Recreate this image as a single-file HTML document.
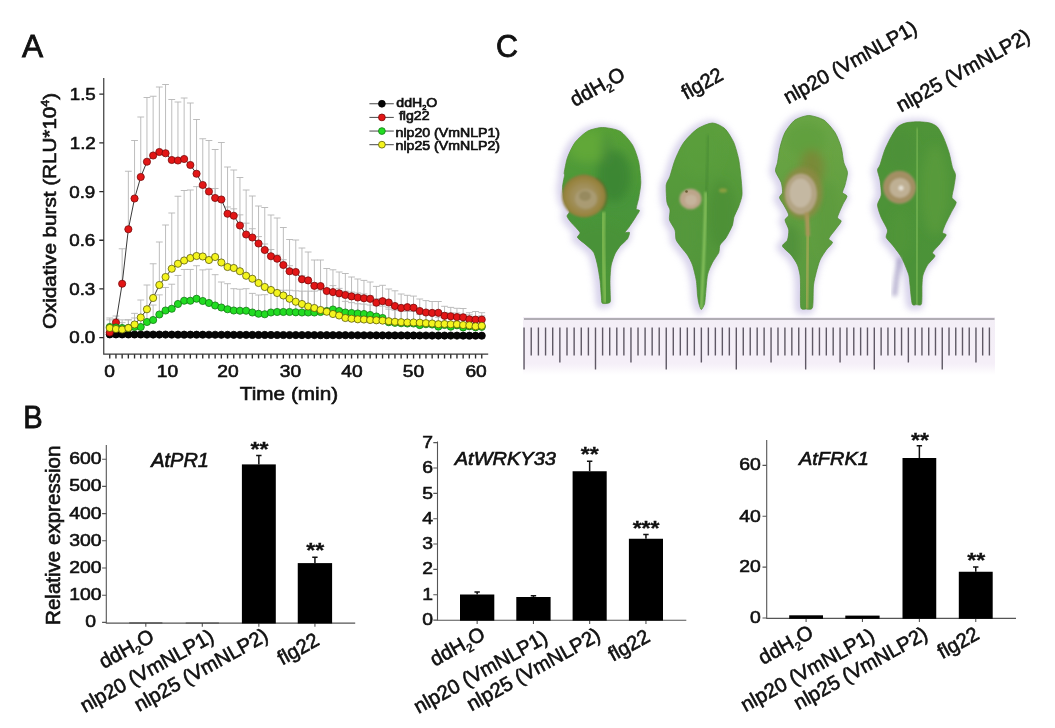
<!DOCTYPE html>
<html lang="en"><head><meta charset="utf-8"><title>Figure</title>
<style>html,body{margin:0;padding:0;background:#fff;}body{width:1055px;height:728px;overflow:hidden;}svg{display:block;filter:blur(0.45px);}text{font-family:"Liberation Sans", sans-serif;}</style>
</head><body>
<svg width="1055" height="728" viewBox="0 0 1055 728">
<defs>
<filter id="b03" x="-5%" y="-5%" width="110%" height="110%"><feGaussianBlur stdDeviation="0.35"/></filter>
<filter id="b05" x="-5%" y="-5%" width="110%" height="110%"><feGaussianBlur stdDeviation="0.6"/></filter>
<filter id="b07" x="-10%" y="-10%" width="120%" height="120%"><feGaussianBlur stdDeviation="0.8"/></filter>
<filter id="b1" x="-20%" y="-20%" width="140%" height="140%"><feGaussianBlur stdDeviation="1.2"/></filter>
<filter id="b2" x="-50%" y="-20%" width="200%" height="140%"><feGaussianBlur stdDeviation="2"/></filter>
<filter id="b4" x="-50%" y="-50%" width="200%" height="200%"><feGaussianBlur stdDeviation="5"/></filter>
<radialGradient id="les1" cx="0.5" cy="0.52" r="0.5"><stop offset="0" stop-color="#a89a6e"/><stop offset="0.55" stop-color="#a08e58"/><stop offset="0.85" stop-color="#98843f"/><stop offset="1" stop-color="#8c7c3a"/></radialGradient>
<filter id="b3" x="-20%" y="-20%" width="140%" height="140%"><feGaussianBlur stdDeviation="3.4"/></filter>
<linearGradient id="photobg" x1="0" y1="0" x2="0" y2="1"><stop offset="0" stop-color="#fff"/><stop offset="0.1" stop-color="#fcfafe"/><stop offset="0.9" stop-color="#fcfafe"/><stop offset="1" stop-color="#fff"/></linearGradient>
<linearGradient id="rulerbg" x1="0" y1="0" x2="0" y2="1"><stop offset="0" stop-color="#f3eef6"/><stop offset="0.8" stop-color="#f5eff8"/><stop offset="1" stop-color="#fff"/></linearGradient>
<linearGradient id="lg1" x1="0" y1="0" x2="0" y2="1"><stop offset="0" stop-color="#58a036"/><stop offset="0.45" stop-color="#48953a"/><stop offset="1" stop-color="#4c9436"/></linearGradient>
<linearGradient id="lg2" x1="0" y1="0" x2="0" y2="1"><stop offset="0" stop-color="#5c9f3c"/><stop offset="0.45" stop-color="#54983a"/><stop offset="1" stop-color="#50963a"/></linearGradient>
<linearGradient id="lg3" x1="0" y1="0" x2="0" y2="1"><stop offset="0" stop-color="#6aa645"/><stop offset="0.45" stop-color="#639f41"/><stop offset="1" stop-color="#589a3e"/></linearGradient>
<linearGradient id="lg4" x1="0" y1="0" x2="0" y2="1"><stop offset="0" stop-color="#4f9438"/><stop offset="0.45" stop-color="#4d9338"/><stop offset="1" stop-color="#4b9238"/></linearGradient>
</defs>
<rect width="1055" height="728" fill="#fff"/>
<g id="panelA">
<text id="t0" transform="translate(21.88,56.92) scale(1.0385,1.0167)" font-size="30.5" text-anchor="start" font-weight="normal" font-style="normal" fill="#111" stroke="#111" stroke-width="0.8" >A</text>
<path d="M115.95 322.50V316.00M112.55 316.00H119.35M122.15 283.75V248.75M118.75 248.75H125.55M128.35 229.25V171.25M124.95 171.25H131.75M134.55 198.50V140.50M131.15 140.50H137.95M140.75 177.00V117.00M137.35 117.00H144.15M146.95 161.75V97.50M143.55 97.50H150.35M153.15 155.50V96.25M149.75 96.25H156.55M159.35 152.00V87.00M155.95 87.00H162.75M165.55 153.25V84.50M162.15 84.50H168.95M171.75 160.00V99.50M168.35 99.50H175.15M177.95 160.50V102.00M174.55 102.00H181.35M184.15 159.00V98.00M180.75 98.00H187.55M190.35 165.00V103.00M186.95 103.00H193.75M196.55 173.75V119.50M193.15 119.50H199.95M202.75 185.00V138.75M199.35 138.75H206.15M208.95 191.50V140.50M205.55 140.50H212.35M215.15 198.00V149.50M211.75 149.50H218.55M221.35 199.50V142.50M217.95 142.50H224.75M227.55 213.75V167.00M224.15 167.00H230.95M233.75 215.75V170.00M230.35 170.00H237.15M239.95 225.50V177.50M236.55 177.50H243.35M246.15 234.50V190.00M242.75 190.00H249.55M252.35 237.50V196.00M248.95 196.00H255.75M258.55 243.50V206.00M255.15 206.00H261.95M264.75 250.00V207.50M261.35 207.50H268.15M270.95 256.25V215.00M267.55 215.00H274.35M277.15 258.75V218.00M273.75 218.00H280.55M283.35 265.00V227.50M279.95 227.50H286.75M289.55 271.25V239.50M286.15 239.50H292.95M295.75 272.00V240.00M292.35 240.00H299.15M301.95 279.30V248.00M298.55 248.00H305.35M308.15 280.40V252.00M304.75 252.00H311.55M314.35 285.80V260.00M310.95 260.00H317.75M320.55 286.10V260.00M317.15 260.00H323.95M326.75 291.00V268.50M323.35 268.50H330.15M332.95 292.10V269.80M329.55 269.80H336.35M339.15 293.30V272.00M335.75 272.00H342.55M345.35 295.00V273.50M341.95 273.50H348.75M351.55 296.40V277.00M348.15 277.00H354.95M357.75 297.50V279.00M354.35 279.00H361.15M363.95 298.30V280.40M360.55 280.40H367.35M370.15 298.80V282.00M366.75 282.00H373.55M376.35 302.70V286.40M372.95 286.40H379.75M382.55 301.20V285.30M379.15 285.30H385.95M388.75 302.50V289.00M385.35 289.00H392.15M394.95 306.00V290.80M391.55 290.80H398.35M401.15 307.90V294.00M397.75 294.00H404.55M407.35 307.20V295.30M403.95 295.30H410.75M413.55 307.70V296.10M410.15 296.10H416.95M419.75 311.00V299.00M416.35 299.00H423.15M425.95 312.50V300.60M422.55 300.60H429.35M432.15 312.90V301.50M428.75 301.50H435.55M438.35 312.80V301.50M434.95 301.50H441.75M444.55 315.80V306.30M441.15 306.30H447.95M450.75 316.30V307.40M447.35 307.40H454.15M456.95 317.10V308.30M453.55 308.30H460.35M463.15 317.30V308.50M459.75 308.50H466.55M469.35 319.30V312.70M465.95 312.70H472.75M475.55 319.60V311.50M472.15 311.50H478.95M481.75 319.60V312.70M478.35 312.70H485.15" stroke="#b6b6b6" stroke-width="0.9" fill="none"/>
<path d="M109.75 328.00V319.84M106.35 319.84H113.15M115.95 329.00V321.69M112.55 321.69H119.35M122.15 329.50V322.62M118.75 322.62H125.55M128.35 328.00V319.84M124.95 319.84H131.75M134.55 324.50V313.37M131.15 313.37H137.95M140.75 317.50V300.00M137.35 300.00H144.15M146.95 309.25V285.00M143.55 285.00H150.35M153.15 298.00V263.75M149.75 263.75H156.55M159.35 285.00V242.00M155.95 242.00H162.75M165.55 277.00V225.00M162.15 225.00H168.95M171.75 268.75V213.00M168.35 213.00H175.15M177.95 263.75V196.25M174.55 196.25H181.35M184.15 260.50V190.50M180.75 190.50H187.55M190.35 258.00V190.00M186.95 190.00H193.75M196.55 256.00V186.64M193.15 186.64H199.95M202.75 256.50V187.56M199.35 187.56H206.15M208.95 260.00V194.04M205.55 194.04H212.35M215.15 257.00V188.49M211.75 188.49H218.55M221.35 262.50V198.66M217.95 198.66H224.75M227.55 267.00V206.99M224.15 206.99H230.95M233.75 268.00V208.84M230.35 208.84H237.15M239.95 271.25V214.85M236.55 214.85H243.35M246.15 275.75V223.18M242.75 223.18H249.55M252.35 278.75V228.73M248.95 228.73H255.75M258.55 283.00V236.59M255.15 236.59H261.95M264.75 287.00V243.99M261.35 243.99H268.15M270.95 290.00V249.54M267.55 249.54H274.35M277.15 293.00V255.09M273.75 255.09H280.55M283.35 295.50V259.71M279.95 259.71H286.75M289.55 298.75V265.73M286.15 265.73H292.95M295.75 301.75V271.28M292.35 271.28H299.15M301.95 304.00V275.44M298.55 275.44H305.35M308.15 306.50V280.06M304.75 280.06H311.55M314.35 308.00V282.84M310.95 282.84H317.75M320.55 310.00V286.54M317.15 286.54H323.95M326.75 311.75V289.78M323.35 289.78H330.15M332.95 314.00V293.94M329.55 293.94H336.35M339.15 315.50V296.71M335.75 296.71H342.55M345.35 318.00V301.34M341.95 301.34H348.75M351.55 318.70V302.63M348.15 302.63H354.95M357.75 319.30V303.75M354.35 303.75H361.15M363.95 319.50V304.12M360.55 304.12H367.35M370.15 320.00V305.04M366.75 305.04H373.55M376.35 320.30V305.60M372.95 305.60H379.75M382.55 320.60V306.15M379.15 306.15H385.95M388.75 321.20V307.26M385.35 307.26H392.15M394.95 321.80V308.37M391.55 308.37H398.35M401.15 322.20V309.11M397.75 309.11H404.55M407.35 322.50V309.66M403.95 309.66H410.75M413.55 322.50V309.66M410.15 309.66H416.95M419.75 322.70V310.03M416.35 310.03H423.15M425.95 323.20V310.96M422.55 310.96H429.35M432.15 323.50V311.51M428.75 311.51H435.55M438.35 324.20V312.81M434.95 312.81H441.75M444.55 324.00V312.44M441.15 312.44H447.95M450.75 324.30V313.00M447.35 313.00H454.15M456.95 324.30V313.00M453.55 313.00H460.35M463.15 325.00V314.29M459.75 314.29H466.55M469.35 325.30V314.85M465.95 314.85H472.75M475.55 326.30V316.69M472.15 316.69H478.95M481.75 325.80V315.77M478.35 315.77H485.15" stroke="#b6b6b6" stroke-width="0.9" fill="none"/>
<path d="M109.75 327.00V317.99M106.35 317.99H113.15M115.95 327.50V318.91M112.55 318.91H119.35M122.15 328.00V319.84M118.75 319.84H125.55M128.35 328.00V319.84M124.95 319.84H131.75M134.55 327.00V317.99M131.15 317.99H137.95M140.75 327.00V317.99M137.35 317.99H144.15M146.95 322.00V308.74M143.55 308.74H150.35M153.15 320.00V305.04M149.75 305.04H156.55M159.35 314.50V294.87M155.95 294.87H162.75M165.55 310.50V287.46M162.15 287.46H168.95M171.75 308.75V284.23M168.35 284.23H175.15M177.95 304.00V275.44M174.55 275.44H181.35M184.15 300.75V269.43M180.75 269.43H187.55M190.35 300.75V269.43M186.95 269.43H193.75M196.55 298.75V265.73M193.15 265.73H199.95M202.75 301.00V269.89M199.35 269.89H206.15M208.95 303.00V269.20M205.55 269.20H212.35M215.15 305.50V274.70M211.75 274.70H218.55M221.35 307.50V282.00M217.95 282.00H224.75M227.55 309.25V283.70M224.15 283.70H230.95M233.75 310.50V288.70M230.35 288.70H237.15M239.95 310.75V289.20M236.55 289.20H243.35M246.15 310.75V288.70M242.75 288.70H249.55M252.35 312.50V293.40M248.95 293.40H255.75M258.55 313.75V295.00M255.15 295.00H261.95M264.75 314.25V294.70M261.35 294.70H268.15M270.95 312.50V291.16M267.55 291.16H274.35M277.15 312.00V290.24M273.75 290.24H280.55M283.35 312.00V290.24M279.95 290.24H286.75M289.55 312.00V290.24M286.15 290.24H292.95M295.75 312.30V290.80M292.35 290.80H299.15M301.95 312.50V291.16M298.55 291.16H305.35M308.15 312.50V291.16M304.75 291.16H311.55M314.35 312.50V291.16M310.95 291.16H317.75M320.55 312.00V290.24M317.15 290.24H323.95M326.75 311.00V288.39M323.35 288.39H330.15M332.95 309.50V285.62M329.55 285.62H336.35M339.15 311.00V288.39M335.75 288.39H342.55M345.35 312.50V291.16M341.95 291.16H348.75M351.55 313.00V292.09M348.15 292.09H354.95M357.75 313.50V293.01M354.35 293.01H361.15M363.95 314.00V293.94M360.55 293.94H367.35M370.15 315.00V295.79M366.75 295.79H373.55M376.35 316.50V298.56M372.95 298.56H379.75M382.55 318.00V301.34M379.15 301.34H385.95M388.75 322.20V309.11M385.35 309.11H392.15M394.95 322.80V310.22M391.55 310.22H398.35M401.15 323.20V310.96M397.75 310.96H404.55M407.35 323.50V311.51M403.95 311.51H410.75M413.55 323.50V311.51M410.15 311.51H416.95M419.75 325.10V314.47M416.35 314.47H423.15M425.95 324.20V312.81M422.55 312.81H429.35M432.15 324.50V313.37M428.75 313.37H435.55M438.35 326.60V317.25M434.95 317.25H441.75M444.55 325.00V314.29M441.15 314.29H447.95M450.75 326.70V317.43M447.35 317.43H454.15M456.95 325.30V314.85M453.55 314.85H460.35M463.15 327.40V318.73M459.75 318.73H466.55M469.35 326.30V316.69M465.95 316.69H472.75M475.55 327.30V318.55M472.15 318.55H478.95M481.75 326.80V317.62M478.35 317.62H485.15" stroke="#b6b6b6" stroke-width="0.9" fill="none"/>
<path d="M103.75 78V354.2H488.2" fill="none" stroke="#3a3a3a" stroke-width="1.2"/>
<path d="M99.3 337.60H103.75M99.3 288.92H103.75M99.3 240.24H103.75M99.3 191.56H103.75M99.3 142.88H103.75M99.3 94.19H103.75M109.75 354.2v4.2M115.95 354.2v4.2M122.15 354.2v4.2M128.35 354.2v4.2M134.55 354.2v4.2M140.75 354.2v4.2M146.95 354.2v4.2M153.15 354.2v4.2M159.35 354.2v4.2M165.55 354.2v4.2M171.75 354.2v4.2M177.95 354.2v4.2M184.15 354.2v4.2M190.35 354.2v4.2M196.55 354.2v4.2M202.75 354.2v4.2M208.95 354.2v4.2M215.15 354.2v4.2M221.35 354.2v4.2M227.55 354.2v4.2M233.75 354.2v4.2M239.95 354.2v4.2M246.15 354.2v4.2M252.35 354.2v4.2M258.55 354.2v4.2M264.75 354.2v4.2M270.95 354.2v4.2M277.15 354.2v4.2M283.35 354.2v4.2M289.55 354.2v4.2M295.75 354.2v4.2M301.95 354.2v4.2M308.15 354.2v4.2M314.35 354.2v4.2M320.55 354.2v4.2M326.75 354.2v4.2M332.95 354.2v4.2M339.15 354.2v4.2M345.35 354.2v4.2M351.55 354.2v4.2M357.75 354.2v4.2M363.95 354.2v4.2M370.15 354.2v4.2M376.35 354.2v4.2M382.55 354.2v4.2M388.75 354.2v4.2M394.95 354.2v4.2M401.15 354.2v4.2M407.35 354.2v4.2M413.55 354.2v4.2M419.75 354.2v4.2M425.95 354.2v4.2M432.15 354.2v4.2M438.35 354.2v4.2M444.55 354.2v4.2M450.75 354.2v4.2M456.95 354.2v4.2M463.15 354.2v4.2M469.35 354.2v4.2M475.55 354.2v4.2M481.75 354.2v4.2" stroke="#2c2c2c" stroke-width="1.35" fill="none"/>
<text id="t1" transform="translate(95.30,343.10) scale(1.0850,1.0000)" font-size="17.3" text-anchor="end" font-weight="normal" font-style="normal" fill="#111" stroke="#111" stroke-width="0.6" >0.0</text>
<text id="t2" transform="translate(95.30,295.03) scale(1.0850,1.0000)" font-size="17.3" text-anchor="end" font-weight="normal" font-style="normal" fill="#111" stroke="#111" stroke-width="0.6" >0.3</text>
<text id="t3" transform="translate(95.30,245.96) scale(1.0850,1.0000)" font-size="17.3" text-anchor="end" font-weight="normal" font-style="normal" fill="#111" stroke="#111" stroke-width="0.6" >0.6</text>
<text id="t4" transform="translate(95.30,197.90) scale(1.0850,1.0000)" font-size="17.3" text-anchor="end" font-weight="normal" font-style="normal" fill="#111" stroke="#111" stroke-width="0.6" >0.9</text>
<text id="t5" transform="translate(95.80,148.83) scale(1.0850,1.0000)" font-size="17.3" text-anchor="end" font-weight="normal" font-style="normal" fill="#111" stroke="#111" stroke-width="0.6" >1.2</text>
<text id="t6" transform="translate(95.80,99.76) scale(1.0850,1.0000)" font-size="17.3" text-anchor="end" font-weight="normal" font-style="normal" fill="#111" stroke="#111" stroke-width="0.6" >1.5</text>
<text id="t7" transform="translate(109.60,377.25) scale(1.1100,1.0000)" font-size="17.3" text-anchor="middle" font-weight="normal" font-style="normal" fill="#111" stroke="#111" stroke-width="0.6" >0</text>
<text id="t8" transform="translate(167.50,377.25) scale(1.1100,1.0000)" font-size="17.3" text-anchor="middle" font-weight="normal" font-style="normal" fill="#111" stroke="#111" stroke-width="0.6" >10</text>
<text id="t9" transform="translate(228.00,377.25) scale(1.1100,1.0000)" font-size="17.3" text-anchor="middle" font-weight="normal" font-style="normal" fill="#111" stroke="#111" stroke-width="0.6" >20</text>
<text id="t10" transform="translate(290.50,377.25) scale(1.1100,1.0000)" font-size="17.3" text-anchor="middle" font-weight="normal" font-style="normal" fill="#111" stroke="#111" stroke-width="0.6" >30</text>
<text id="t11" transform="translate(351.90,377.25) scale(1.1100,1.0000)" font-size="17.3" text-anchor="middle" font-weight="normal" font-style="normal" fill="#111" stroke="#111" stroke-width="0.6" >40</text>
<text id="t12" transform="translate(413.50,377.25) scale(1.1100,1.0000)" font-size="17.3" text-anchor="middle" font-weight="normal" font-style="normal" fill="#111" stroke="#111" stroke-width="0.6" >50</text>
<text id="t13" transform="translate(476.10,377.25) scale(1.1100,1.0000)" font-size="17.3" text-anchor="middle" font-weight="normal" font-style="normal" fill="#111" stroke="#111" stroke-width="0.6" >60</text>
<text id="t14" transform="translate(288.95,400.40) scale(1.1650,1.0000)" font-size="17.8" text-anchor="middle" font-weight="normal" font-style="normal" fill="#111" stroke="#111" stroke-width="0.6" >Time (min)</text>
<text id="t15" transform="translate(55.70,211.00) rotate(-90) scale(1.0754,1.0000)" font-size="19.2" text-anchor="middle" font-weight="normal" font-style="normal" fill="#111" stroke="#111" stroke-width="0.6" >Oxidative burst (RLU*10<tspan font-size="11.5" dy="-6.5">4</tspan><tspan dy="6.5">)</tspan></text>
<polyline points="109.75,334.40 115.95,334.42 122.15,334.44 128.35,334.46 134.55,334.49 140.75,334.51 146.95,334.53 153.15,334.55 159.35,334.57 165.55,334.59 171.75,334.62 177.95,334.64 184.15,334.66 190.35,334.68 196.55,334.70 202.75,334.72 208.95,334.75 215.15,334.77 221.35,334.79 227.55,334.81 233.75,334.83 239.95,334.85 246.15,334.88 252.35,334.90 258.55,334.92 264.75,334.94 270.95,334.96 277.15,334.98 283.35,335.01 289.55,335.03 295.75,335.05 301.95,335.07 308.15,335.09 314.35,335.11 320.55,335.14 326.75,335.16 332.95,335.18 339.15,335.20 345.35,335.22 351.55,335.25 357.75,335.27 363.95,335.29 370.15,335.31 376.35,335.33 382.55,335.35 388.75,335.38 394.95,335.40 401.15,335.42 407.35,335.44 413.55,335.46 419.75,335.48 425.95,335.50 432.15,335.53 438.35,335.55 444.55,335.57 450.75,335.59 456.95,335.61 463.15,335.63 469.35,335.66 475.55,335.68 481.75,335.70" fill="none" stroke="#222" stroke-width="0.9"/>
<g fill="#050505" stroke="#000" stroke-width="0.8">
<circle cx="109.75" cy="334.40" r="3.6"/><circle cx="115.95" cy="334.42" r="3.6"/><circle cx="122.15" cy="334.44" r="3.6"/><circle cx="128.35" cy="334.46" r="3.6"/><circle cx="134.55" cy="334.49" r="3.6"/><circle cx="140.75" cy="334.51" r="3.6"/><circle cx="146.95" cy="334.53" r="3.6"/><circle cx="153.15" cy="334.55" r="3.6"/><circle cx="159.35" cy="334.57" r="3.6"/><circle cx="165.55" cy="334.59" r="3.6"/><circle cx="171.75" cy="334.62" r="3.6"/><circle cx="177.95" cy="334.64" r="3.6"/><circle cx="184.15" cy="334.66" r="3.6"/><circle cx="190.35" cy="334.68" r="3.6"/><circle cx="196.55" cy="334.70" r="3.6"/><circle cx="202.75" cy="334.72" r="3.6"/><circle cx="208.95" cy="334.75" r="3.6"/><circle cx="215.15" cy="334.77" r="3.6"/><circle cx="221.35" cy="334.79" r="3.6"/><circle cx="227.55" cy="334.81" r="3.6"/><circle cx="233.75" cy="334.83" r="3.6"/><circle cx="239.95" cy="334.85" r="3.6"/><circle cx="246.15" cy="334.88" r="3.6"/><circle cx="252.35" cy="334.90" r="3.6"/><circle cx="258.55" cy="334.92" r="3.6"/><circle cx="264.75" cy="334.94" r="3.6"/><circle cx="270.95" cy="334.96" r="3.6"/><circle cx="277.15" cy="334.98" r="3.6"/><circle cx="283.35" cy="335.01" r="3.6"/><circle cx="289.55" cy="335.03" r="3.6"/><circle cx="295.75" cy="335.05" r="3.6"/><circle cx="301.95" cy="335.07" r="3.6"/><circle cx="308.15" cy="335.09" r="3.6"/><circle cx="314.35" cy="335.11" r="3.6"/><circle cx="320.55" cy="335.14" r="3.6"/><circle cx="326.75" cy="335.16" r="3.6"/><circle cx="332.95" cy="335.18" r="3.6"/><circle cx="339.15" cy="335.20" r="3.6"/><circle cx="345.35" cy="335.22" r="3.6"/><circle cx="351.55" cy="335.25" r="3.6"/><circle cx="357.75" cy="335.27" r="3.6"/><circle cx="363.95" cy="335.29" r="3.6"/><circle cx="370.15" cy="335.31" r="3.6"/><circle cx="376.35" cy="335.33" r="3.6"/><circle cx="382.55" cy="335.35" r="3.6"/><circle cx="388.75" cy="335.38" r="3.6"/><circle cx="394.95" cy="335.40" r="3.6"/><circle cx="401.15" cy="335.42" r="3.6"/><circle cx="407.35" cy="335.44" r="3.6"/><circle cx="413.55" cy="335.46" r="3.6"/><circle cx="419.75" cy="335.48" r="3.6"/><circle cx="425.95" cy="335.50" r="3.6"/><circle cx="432.15" cy="335.53" r="3.6"/><circle cx="438.35" cy="335.55" r="3.6"/><circle cx="444.55" cy="335.57" r="3.6"/><circle cx="450.75" cy="335.59" r="3.6"/><circle cx="456.95" cy="335.61" r="3.6"/><circle cx="463.15" cy="335.63" r="3.6"/><circle cx="469.35" cy="335.66" r="3.6"/><circle cx="475.55" cy="335.68" r="3.6"/><circle cx="481.75" cy="335.70" r="3.6"/>
</g>
<polyline points="109.75,332.50 115.95,322.50 122.15,283.75 128.35,229.25 134.55,198.50 140.75,177.00 146.95,161.75 153.15,155.50 159.35,152.00 165.55,153.25 171.75,160.00 177.95,160.50 184.15,159.00 190.35,165.00 196.55,173.75 202.75,185.00 208.95,191.50 215.15,198.00 221.35,199.50 227.55,213.75 233.75,215.75 239.95,225.50 246.15,234.50 252.35,237.50 258.55,243.50 264.75,250.00 270.95,256.25 277.15,258.75 283.35,265.00 289.55,271.25 295.75,272.00 301.95,279.30 308.15,280.40 314.35,285.80 320.55,286.10 326.75,291.00 332.95,292.10 339.15,293.30 345.35,295.00 351.55,296.40 357.75,297.50 363.95,298.30 370.15,298.80 376.35,302.70 382.55,301.20 388.75,302.50 394.95,306.00 401.15,307.90 407.35,307.20 413.55,307.70 419.75,311.00 425.95,312.50 432.15,312.90 438.35,312.80 444.55,315.80 450.75,316.30 456.95,317.10 463.15,317.30 469.35,319.30 475.55,319.60 481.75,319.60" fill="none" stroke="#222" stroke-width="0.9"/>
<g fill="#e21616" stroke="#7a0a0a" stroke-width="0.8">
<circle cx="109.75" cy="332.50" r="3.6"/><circle cx="115.95" cy="322.50" r="3.6"/><circle cx="122.15" cy="283.75" r="3.6"/><circle cx="128.35" cy="229.25" r="3.6"/><circle cx="134.55" cy="198.50" r="3.6"/><circle cx="140.75" cy="177.00" r="3.6"/><circle cx="146.95" cy="161.75" r="3.6"/><circle cx="153.15" cy="155.50" r="3.6"/><circle cx="159.35" cy="152.00" r="3.6"/><circle cx="165.55" cy="153.25" r="3.6"/><circle cx="171.75" cy="160.00" r="3.6"/><circle cx="177.95" cy="160.50" r="3.6"/><circle cx="184.15" cy="159.00" r="3.6"/><circle cx="190.35" cy="165.00" r="3.6"/><circle cx="196.55" cy="173.75" r="3.6"/><circle cx="202.75" cy="185.00" r="3.6"/><circle cx="208.95" cy="191.50" r="3.6"/><circle cx="215.15" cy="198.00" r="3.6"/><circle cx="221.35" cy="199.50" r="3.6"/><circle cx="227.55" cy="213.75" r="3.6"/><circle cx="233.75" cy="215.75" r="3.6"/><circle cx="239.95" cy="225.50" r="3.6"/><circle cx="246.15" cy="234.50" r="3.6"/><circle cx="252.35" cy="237.50" r="3.6"/><circle cx="258.55" cy="243.50" r="3.6"/><circle cx="264.75" cy="250.00" r="3.6"/><circle cx="270.95" cy="256.25" r="3.6"/><circle cx="277.15" cy="258.75" r="3.6"/><circle cx="283.35" cy="265.00" r="3.6"/><circle cx="289.55" cy="271.25" r="3.6"/><circle cx="295.75" cy="272.00" r="3.6"/><circle cx="301.95" cy="279.30" r="3.6"/><circle cx="308.15" cy="280.40" r="3.6"/><circle cx="314.35" cy="285.80" r="3.6"/><circle cx="320.55" cy="286.10" r="3.6"/><circle cx="326.75" cy="291.00" r="3.6"/><circle cx="332.95" cy="292.10" r="3.6"/><circle cx="339.15" cy="293.30" r="3.6"/><circle cx="345.35" cy="295.00" r="3.6"/><circle cx="351.55" cy="296.40" r="3.6"/><circle cx="357.75" cy="297.50" r="3.6"/><circle cx="363.95" cy="298.30" r="3.6"/><circle cx="370.15" cy="298.80" r="3.6"/><circle cx="376.35" cy="302.70" r="3.6"/><circle cx="382.55" cy="301.20" r="3.6"/><circle cx="388.75" cy="302.50" r="3.6"/><circle cx="394.95" cy="306.00" r="3.6"/><circle cx="401.15" cy="307.90" r="3.6"/><circle cx="407.35" cy="307.20" r="3.6"/><circle cx="413.55" cy="307.70" r="3.6"/><circle cx="419.75" cy="311.00" r="3.6"/><circle cx="425.95" cy="312.50" r="3.6"/><circle cx="432.15" cy="312.90" r="3.6"/><circle cx="438.35" cy="312.80" r="3.6"/><circle cx="444.55" cy="315.80" r="3.6"/><circle cx="450.75" cy="316.30" r="3.6"/><circle cx="456.95" cy="317.10" r="3.6"/><circle cx="463.15" cy="317.30" r="3.6"/><circle cx="469.35" cy="319.30" r="3.6"/><circle cx="475.55" cy="319.60" r="3.6"/><circle cx="481.75" cy="319.60" r="3.6"/>
</g>
<polyline points="109.75,327.00 115.95,327.50 122.15,328.00 128.35,328.00 134.55,327.00 140.75,327.00 146.95,322.00 153.15,320.00 159.35,314.50 165.55,310.50 171.75,308.75 177.95,304.00 184.15,300.75 190.35,300.75 196.55,298.75 202.75,301.00 208.95,303.00 215.15,305.50 221.35,307.50 227.55,309.25 233.75,310.50 239.95,310.75 246.15,310.75 252.35,312.50 258.55,313.75 264.75,314.25 270.95,312.50 277.15,312.00 283.35,312.00 289.55,312.00 295.75,312.30 301.95,312.50 308.15,312.50 314.35,312.50 320.55,312.00 326.75,311.00 332.95,309.50 339.15,311.00 345.35,312.50 351.55,313.00 357.75,313.50 363.95,314.00 370.15,315.00 376.35,316.50 382.55,318.00 388.75,322.20 394.95,322.80 401.15,323.20 407.35,323.50 413.55,323.50 419.75,325.10 425.95,324.20 432.15,324.50 438.35,326.60 444.55,325.00 450.75,326.70 456.95,325.30 463.15,327.40 469.35,326.30 475.55,327.30 481.75,326.80" fill="none" stroke="#222" stroke-width="0.9"/>
<g fill="#22dc22" stroke="#0f7a12" stroke-width="0.8">
<circle cx="109.75" cy="327.00" r="3.6"/><circle cx="115.95" cy="327.50" r="3.6"/><circle cx="122.15" cy="328.00" r="3.6"/><circle cx="128.35" cy="328.00" r="3.6"/><circle cx="134.55" cy="327.00" r="3.6"/><circle cx="140.75" cy="327.00" r="3.6"/><circle cx="146.95" cy="322.00" r="3.6"/><circle cx="153.15" cy="320.00" r="3.6"/><circle cx="159.35" cy="314.50" r="3.6"/><circle cx="165.55" cy="310.50" r="3.6"/><circle cx="171.75" cy="308.75" r="3.6"/><circle cx="177.95" cy="304.00" r="3.6"/><circle cx="184.15" cy="300.75" r="3.6"/><circle cx="190.35" cy="300.75" r="3.6"/><circle cx="196.55" cy="298.75" r="3.6"/><circle cx="202.75" cy="301.00" r="3.6"/><circle cx="208.95" cy="303.00" r="3.6"/><circle cx="215.15" cy="305.50" r="3.6"/><circle cx="221.35" cy="307.50" r="3.6"/><circle cx="227.55" cy="309.25" r="3.6"/><circle cx="233.75" cy="310.50" r="3.6"/><circle cx="239.95" cy="310.75" r="3.6"/><circle cx="246.15" cy="310.75" r="3.6"/><circle cx="252.35" cy="312.50" r="3.6"/><circle cx="258.55" cy="313.75" r="3.6"/><circle cx="264.75" cy="314.25" r="3.6"/><circle cx="270.95" cy="312.50" r="3.6"/><circle cx="277.15" cy="312.00" r="3.6"/><circle cx="283.35" cy="312.00" r="3.6"/><circle cx="289.55" cy="312.00" r="3.6"/><circle cx="295.75" cy="312.30" r="3.6"/><circle cx="301.95" cy="312.50" r="3.6"/><circle cx="308.15" cy="312.50" r="3.6"/><circle cx="314.35" cy="312.50" r="3.6"/><circle cx="320.55" cy="312.00" r="3.6"/><circle cx="326.75" cy="311.00" r="3.6"/><circle cx="332.95" cy="309.50" r="3.6"/><circle cx="339.15" cy="311.00" r="3.6"/><circle cx="345.35" cy="312.50" r="3.6"/><circle cx="351.55" cy="313.00" r="3.6"/><circle cx="357.75" cy="313.50" r="3.6"/><circle cx="363.95" cy="314.00" r="3.6"/><circle cx="370.15" cy="315.00" r="3.6"/><circle cx="376.35" cy="316.50" r="3.6"/><circle cx="382.55" cy="318.00" r="3.6"/><circle cx="388.75" cy="322.20" r="3.6"/><circle cx="394.95" cy="322.80" r="3.6"/><circle cx="401.15" cy="323.20" r="3.6"/><circle cx="407.35" cy="323.50" r="3.6"/><circle cx="413.55" cy="323.50" r="3.6"/><circle cx="419.75" cy="325.10" r="3.6"/><circle cx="425.95" cy="324.20" r="3.6"/><circle cx="432.15" cy="324.50" r="3.6"/><circle cx="438.35" cy="326.60" r="3.6"/><circle cx="444.55" cy="325.00" r="3.6"/><circle cx="450.75" cy="326.70" r="3.6"/><circle cx="456.95" cy="325.30" r="3.6"/><circle cx="463.15" cy="327.40" r="3.6"/><circle cx="469.35" cy="326.30" r="3.6"/><circle cx="475.55" cy="327.30" r="3.6"/><circle cx="481.75" cy="326.80" r="3.6"/>
</g>
<polyline points="109.75,328.00 115.95,329.00 122.15,329.50 128.35,328.00 134.55,324.50 140.75,317.50 146.95,309.25 153.15,298.00 159.35,285.00 165.55,277.00 171.75,268.75 177.95,263.75 184.15,260.50 190.35,258.00 196.55,256.00 202.75,256.50 208.95,260.00 215.15,257.00 221.35,262.50 227.55,267.00 233.75,268.00 239.95,271.25 246.15,275.75 252.35,278.75 258.55,283.00 264.75,287.00 270.95,290.00 277.15,293.00 283.35,295.50 289.55,298.75 295.75,301.75 301.95,304.00 308.15,306.50 314.35,308.00 320.55,310.00 326.75,311.75 332.95,314.00 339.15,315.50 345.35,318.00 351.55,318.70 357.75,319.30 363.95,319.50 370.15,320.00 376.35,320.30 382.55,320.60 388.75,321.20 394.95,321.80 401.15,322.20 407.35,322.50 413.55,322.50 419.75,322.70 425.95,323.20 432.15,323.50 438.35,324.20 444.55,324.00 450.75,324.30 456.95,324.30 463.15,325.00 469.35,325.30 475.55,326.30 481.75,325.80" fill="none" stroke="#222" stroke-width="0.9"/>
<g fill="#f4f41e" stroke="#5c5c08" stroke-width="0.8">
<circle cx="109.75" cy="328.00" r="3.6"/><circle cx="115.95" cy="329.00" r="3.6"/><circle cx="122.15" cy="329.50" r="3.6"/><circle cx="128.35" cy="328.00" r="3.6"/><circle cx="134.55" cy="324.50" r="3.6"/><circle cx="140.75" cy="317.50" r="3.6"/><circle cx="146.95" cy="309.25" r="3.6"/><circle cx="153.15" cy="298.00" r="3.6"/><circle cx="159.35" cy="285.00" r="3.6"/><circle cx="165.55" cy="277.00" r="3.6"/><circle cx="171.75" cy="268.75" r="3.6"/><circle cx="177.95" cy="263.75" r="3.6"/><circle cx="184.15" cy="260.50" r="3.6"/><circle cx="190.35" cy="258.00" r="3.6"/><circle cx="196.55" cy="256.00" r="3.6"/><circle cx="202.75" cy="256.50" r="3.6"/><circle cx="208.95" cy="260.00" r="3.6"/><circle cx="215.15" cy="257.00" r="3.6"/><circle cx="221.35" cy="262.50" r="3.6"/><circle cx="227.55" cy="267.00" r="3.6"/><circle cx="233.75" cy="268.00" r="3.6"/><circle cx="239.95" cy="271.25" r="3.6"/><circle cx="246.15" cy="275.75" r="3.6"/><circle cx="252.35" cy="278.75" r="3.6"/><circle cx="258.55" cy="283.00" r="3.6"/><circle cx="264.75" cy="287.00" r="3.6"/><circle cx="270.95" cy="290.00" r="3.6"/><circle cx="277.15" cy="293.00" r="3.6"/><circle cx="283.35" cy="295.50" r="3.6"/><circle cx="289.55" cy="298.75" r="3.6"/><circle cx="295.75" cy="301.75" r="3.6"/><circle cx="301.95" cy="304.00" r="3.6"/><circle cx="308.15" cy="306.50" r="3.6"/><circle cx="314.35" cy="308.00" r="3.6"/><circle cx="320.55" cy="310.00" r="3.6"/><circle cx="326.75" cy="311.75" r="3.6"/><circle cx="332.95" cy="314.00" r="3.6"/><circle cx="339.15" cy="315.50" r="3.6"/><circle cx="345.35" cy="318.00" r="3.6"/><circle cx="351.55" cy="318.70" r="3.6"/><circle cx="357.75" cy="319.30" r="3.6"/><circle cx="363.95" cy="319.50" r="3.6"/><circle cx="370.15" cy="320.00" r="3.6"/><circle cx="376.35" cy="320.30" r="3.6"/><circle cx="382.55" cy="320.60" r="3.6"/><circle cx="388.75" cy="321.20" r="3.6"/><circle cx="394.95" cy="321.80" r="3.6"/><circle cx="401.15" cy="322.20" r="3.6"/><circle cx="407.35" cy="322.50" r="3.6"/><circle cx="413.55" cy="322.50" r="3.6"/><circle cx="419.75" cy="322.70" r="3.6"/><circle cx="425.95" cy="323.20" r="3.6"/><circle cx="432.15" cy="323.50" r="3.6"/><circle cx="438.35" cy="324.20" r="3.6"/><circle cx="444.55" cy="324.00" r="3.6"/><circle cx="450.75" cy="324.30" r="3.6"/><circle cx="456.95" cy="324.30" r="3.6"/><circle cx="463.15" cy="325.00" r="3.6"/><circle cx="469.35" cy="325.30" r="3.6"/><circle cx="475.55" cy="326.30" r="3.6"/><circle cx="481.75" cy="325.80" r="3.6"/>
</g>
<path d="M369.4 103.75H393.8" stroke="#333" stroke-width="0.9"/>
<circle cx="381.9" cy="103.75" r="3.4" fill="#050505" stroke="#000" stroke-width="0.8"/>
<text id="t16" transform="translate(396.32,106.95) scale(1.0550,1.0000)" font-size="13.4" text-anchor="start" font-weight="normal" font-style="normal" fill="#111" stroke="#111" stroke-width="0.7" >ddH<tspan font-size="7" dy="3.5">2</tspan><tspan dy="-3.5">O</tspan></text>
<path d="M369.4 117.40H393.8" stroke="#333" stroke-width="0.9"/>
<circle cx="381.9" cy="117.40" r="3.4" fill="#e21616" stroke="#7a0a0a" stroke-width="0.8"/>
<text id="t17" transform="translate(398.88,120.42) scale(1.0550,1.0000)" font-size="13.4" text-anchor="start" font-weight="normal" font-style="normal" fill="#111" stroke="#111" stroke-width="0.7" >flg22</text>
<path d="M369.4 131.05H393.8" stroke="#333" stroke-width="0.9"/>
<circle cx="381.9" cy="131.05" r="3.4" fill="#22dc22" stroke="#0f7a12" stroke-width="0.8"/>
<text id="t18" transform="translate(395.57,136.70) scale(1.0550,1.0000)" font-size="13.4" text-anchor="start" font-weight="normal" font-style="normal" fill="#111" stroke="#111" stroke-width="0.7" >nlp20 (VmNLP1)</text>
<path d="M369.4 144.70H393.8" stroke="#333" stroke-width="0.9"/>
<circle cx="381.9" cy="144.70" r="3.4" fill="#f4f41e" stroke="#5c5c08" stroke-width="0.8"/>
<text id="t19" transform="translate(395.57,149.85) scale(1.0550,1.0000)" font-size="13.4" text-anchor="start" font-weight="normal" font-style="normal" fill="#111" stroke="#111" stroke-width="0.7" >nlp25 (VmNLP2)</text>
</g>
<g id="panelC">
<text id="t20" transform="translate(496.00,57.00)" font-size="30.5" text-anchor="start" font-weight="normal" font-style="normal" fill="#111" stroke="#111" stroke-width="0.8" >C</text>
<rect x="523" y="317" width="472" height="58" fill="url(#rulerbg)"/>
<path d="M524 318.9H994.5" stroke="#9a979e" stroke-width="1.5"/>
<path d="M524.05 327.5V369.5M531.23 327.5V355.5M538.40 327.5V355.5M545.56 327.5V355.5M552.71 327.5V355.5M559.86 327.5V362.5M567.00 327.5V355.5M574.14 327.5V355.5M581.27 327.5V355.5M588.39 327.5V355.5M595.50 327.5V369.5M602.61 327.5V355.5M609.71 327.5V355.5M616.80 327.5V355.5M623.88 327.5V355.5M630.96 327.5V362.5M638.03 327.5V355.5M645.10 327.5V355.5M652.16 327.5V355.5M659.21 327.5V355.5M666.25 327.5V369.5M673.29 327.5V355.5M680.32 327.5V355.5M687.34 327.5V355.5M694.35 327.5V355.5M701.36 327.5V362.5M708.36 327.5V355.5M715.36 327.5V355.5M722.35 327.5V355.5M729.33 327.5V355.5M736.30 327.5V369.5M743.27 327.5V355.5M750.23 327.5V355.5M757.18 327.5V355.5M764.12 327.5V355.5M771.06 327.5V362.5M777.99 327.5V355.5M784.92 327.5V355.5M791.84 327.5V355.5M798.75 327.5V355.5M805.65 327.5V369.5M812.55 327.5V355.5M819.44 327.5V355.5M826.32 327.5V355.5M833.19 327.5V355.5M840.06 327.5V362.5M846.92 327.5V355.5M853.78 327.5V355.5M860.63 327.5V355.5M867.47 327.5V355.5M874.30 327.5V369.5M881.13 327.5V355.5M887.95 327.5V355.5M894.76 327.5V355.5M901.56 327.5V355.5M908.36 327.5V362.5M915.15 327.5V355.5M921.94 327.5V355.5M928.72 327.5V355.5M935.49 327.5V355.5M942.25 327.5V369.5M949.01 327.5V355.5M955.76 327.5V355.5M962.50 327.5V355.5M969.23 327.5V355.5M975.96 327.5V362.5M982.68 327.5V355.5M989.40 327.5V355.5" stroke="#5f5965" stroke-width="1.4" fill="none" filter="url(#b05)"/>
<defs>
<path id="leaf1" d="M602.5 127.5C606.4 127.5 616.4 129.2 620.0 131.2C623.6 133.3 630.2 141.2 632.5 145.0C634.8 148.8 637.8 158.0 638.8 162.5C639.7 167.0 640.8 178.3 640.8 182.5C640.8 186.7 639.3 194.3 638.8 197.5C638.2 200.7 636.2 207.2 636.2 208.8C636.3 210.3 639.5 209.6 639.5 210.5C639.5 211.4 637.5 214.2 636.2 216.2C635.0 218.3 630.1 225.6 628.8 227.5C627.4 229.4 624.9 231.9 625.0 232.5C625.1 233.1 629.2 231.8 629.5 232.5C629.8 233.2 628.6 237.1 627.5 238.8C626.4 240.4 621.5 244.4 620.0 246.2C618.5 248.1 616.0 251.5 615.0 253.8C614.0 256.0 611.9 261.9 611.2 265.0C610.6 268.1 610.1 276.3 610.0 280.0C609.9 283.7 610.3 293.3 610.3 296.0C610.3 298.7 610.8 301.7 609.8 302.6C608.8 303.5 603.3 304.0 602.3 303.2C601.3 302.4 601.6 298.8 601.3 296.0C601.0 293.2 600.5 283.7 600.0 280.0C599.5 276.3 598.2 268.3 597.5 265.0C596.8 261.7 595.1 254.9 593.8 252.5C592.4 250.1 588.2 246.8 586.2 245.0C584.3 243.2 578.2 239.0 577.5 237.5C576.8 236.0 580.8 234.3 580.0 232.5C579.2 230.7 572.8 224.4 571.2 222.5C569.7 220.6 567.2 217.6 567.0 216.2C566.8 214.9 569.8 213.2 569.5 211.2C569.2 209.3 565.1 202.8 564.2 200.0C563.4 197.2 562.5 190.4 562.5 187.5C562.5 184.6 564.3 177.3 564.5 175.5C564.7 173.7 563.9 174.7 564.2 172.5C564.6 170.3 566.2 161.1 567.5 157.5C568.8 153.9 572.6 145.7 575.0 142.5C577.4 139.3 584.2 133.1 587.5 131.2C590.8 129.4 598.6 127.5 602.5 127.5Z"/><clipPath id="clip1"><use href="#leaf1"/></clipPath>
<path id="leaf2" d="M712.5 123.0C715.8 123.0 722.5 126.4 725.0 128.8C727.5 131.1 732.1 138.8 733.8 142.5C735.4 146.2 737.9 155.5 738.8 160.0C739.6 164.5 740.9 175.8 741.2 180.0C741.6 184.2 742.3 191.8 742.0 195.0C741.7 198.2 739.7 203.6 738.8 206.2C737.8 208.9 734.5 215.2 733.8 217.5C733.0 219.8 733.4 222.6 732.5 225.0C731.6 227.4 727.8 235.1 726.2 237.5C724.8 239.9 720.9 243.2 720.0 245.0C719.1 246.8 719.6 250.4 718.8 252.5C717.9 254.6 713.9 259.8 712.5 262.5C711.1 265.2 708.3 271.1 707.5 275.0C706.7 278.9 705.9 291.5 705.5 295.0C705.1 298.5 705.0 302.3 704.5 304.0C704.0 305.7 702.0 309.5 701.3 309.5C700.6 309.5 699.5 305.7 699.0 304.0C698.5 302.3 697.8 297.9 697.5 295.0C697.2 292.1 696.9 283.6 696.2 280.0C695.6 276.4 693.5 268.0 692.5 265.0C691.5 262.0 688.7 256.9 687.5 255.0C686.3 253.1 683.9 250.6 682.5 248.8C681.1 246.9 677.1 242.2 676.2 240.0C675.4 237.8 675.8 232.4 675.0 230.0C674.2 227.6 670.1 222.4 669.5 220.0C668.9 217.6 670.3 212.1 670.0 210.0C669.7 207.9 667.5 205.5 667.0 202.5C666.5 199.5 665.9 188.2 666.2 185.0C666.6 181.8 669.0 179.2 670.0 176.2C671.0 173.2 673.4 164.1 675.0 160.0C676.6 155.9 681.0 146.2 683.8 142.5C686.5 138.8 694.0 131.1 697.5 128.8C701.0 126.4 709.2 123.0 712.5 123.0Z"/><clipPath id="clip2"><use href="#leaf2"/></clipPath>
<path id="leaf3" d="M808.8 115.5C812.2 115.5 820.6 118.0 823.8 120.0C826.9 122.0 832.9 129.2 835.0 132.5C837.1 135.8 840.2 143.9 841.2 147.5C842.3 151.1 843.0 159.5 843.8 162.5C844.5 165.5 847.4 169.8 847.5 172.5C847.6 175.2 845.6 182.6 845.0 185.0C844.4 187.4 842.3 191.2 842.5 192.5C842.7 193.8 847.0 194.8 847.0 196.2C847.0 197.8 843.6 202.4 842.5 205.0C841.4 207.6 837.6 215.6 837.5 217.5C837.4 219.4 841.5 219.8 841.2 221.2C841.0 222.8 836.5 227.9 835.0 230.0C833.5 232.1 829.0 237.2 828.8 238.8C828.5 240.2 832.8 241.2 832.5 242.5C832.2 243.8 827.8 247.9 826.2 250.0C824.8 252.1 821.2 257.3 820.0 260.0C818.8 262.7 817.0 269.5 816.2 272.5C815.5 275.5 814.0 280.8 813.5 285.0C813.0 289.2 813.4 304.6 812.5 307.5C811.6 310.4 807.4 309.0 806.0 309.0C804.6 309.0 801.5 310.4 800.8 307.5C800.1 304.6 800.6 288.9 800.5 285.0C800.4 281.1 800.4 277.4 800.0 275.0C799.6 272.6 798.5 267.4 797.5 265.0C796.5 262.6 793.0 257.2 791.2 255.0C789.5 252.8 783.0 248.1 782.5 246.2C782.0 244.4 786.8 241.9 787.5 240.0C788.2 238.1 789.0 232.4 788.8 230.0C788.5 227.6 785.0 221.8 785.0 220.0C785.0 218.2 788.9 216.8 788.8 215.0C788.6 213.2 784.9 207.1 783.8 205.0C782.6 202.9 779.6 199.0 779.5 197.5C779.4 196.0 782.3 194.3 782.5 192.5C782.7 190.7 782.1 185.1 781.2 182.5C780.4 179.9 776.0 173.7 775.5 171.2C775.0 168.8 777.0 165.3 777.5 162.5C778.0 159.7 779.1 151.1 780.0 147.5C780.9 143.9 783.2 135.8 785.0 132.5C786.8 129.2 792.1 122.0 795.0 120.0C797.9 118.0 805.3 115.5 808.8 115.5Z"/><clipPath id="clip3"><use href="#leaf3"/></clipPath>
<path id="leaf4" d="M917.5 121.8C920.2 121.8 926.6 122.2 929.0 122.8C931.4 123.3 935.5 125.0 937.2 126.8C939.0 128.5 942.1 134.4 943.5 137.5C944.9 140.6 947.9 148.9 949.0 152.5C950.1 156.1 951.7 164.8 952.5 167.5C953.3 170.2 955.4 172.6 955.5 175.0C955.6 177.4 954.2 184.8 953.8 187.5C953.3 190.2 951.7 195.7 952.0 197.5C952.3 199.3 956.3 200.7 956.2 202.5C956.2 204.3 952.6 209.8 951.2 212.5C949.9 215.2 946.0 222.6 945.0 225.0C944.0 227.4 942.4 231.3 942.5 232.5C942.6 233.7 946.5 233.7 946.2 235.0C946.0 236.3 941.6 241.7 940.0 243.8C938.4 245.8 933.1 251.0 932.5 252.5C931.9 254.0 935.6 254.8 935.0 256.2C934.4 257.8 928.9 262.8 927.5 265.0C926.1 267.2 923.7 272.6 923.0 275.0C922.3 277.4 922.2 281.5 922.0 285.0C921.8 288.5 922.2 301.4 921.5 303.8C920.8 306.2 917.6 304.6 916.5 304.6C915.4 304.6 913.0 306.2 912.2 303.8C911.4 301.4 910.4 288.5 910.0 285.0C909.6 281.5 909.4 277.4 908.8 275.0C908.1 272.6 906.0 267.4 905.0 265.0C904.0 262.6 901.5 257.4 900.0 255.0C898.5 252.6 894.1 247.1 892.5 245.0C890.9 242.9 886.9 239.3 886.2 237.5C885.6 235.7 888.1 232.4 887.5 230.0C886.9 227.6 882.5 220.5 881.2 217.5C880.0 214.5 877.5 207.7 877.5 205.0C877.5 202.3 881.0 198.0 881.2 195.0C881.5 192.0 880.5 183.0 880.0 180.0C879.5 177.0 877.5 171.8 877.5 170.0C877.5 168.2 879.1 167.4 880.0 165.0C880.9 162.6 883.4 153.4 884.8 150.0C886.1 146.6 889.9 139.0 891.5 136.2C893.1 133.5 896.0 128.4 897.8 126.8C899.5 125.1 903.9 123.3 906.2 122.8C908.6 122.2 914.8 121.8 917.5 121.8Z"/><clipPath id="clip4"><use href="#leaf4"/></clipPath>
</defs>
<use href="#leaf1" fill="#b9b0dc" stroke="#b9b0dc" stroke-width="8" stroke-linejoin="round" opacity="0.55" transform="translate(-2,1)" filter="url(#b3)"/>
<use href="#leaf2" fill="#b9b0dc" stroke="#b9b0dc" stroke-width="8" stroke-linejoin="round" opacity="0.55" transform="translate(-2,1)" filter="url(#b3)"/>
<use href="#leaf3" fill="#b9b0dc" stroke="#b9b0dc" stroke-width="8" stroke-linejoin="round" opacity="0.55" transform="translate(-2,1)" filter="url(#b3)"/>
<use href="#leaf4" fill="#b9b0dc" stroke="#b9b0dc" stroke-width="8" stroke-linejoin="round" opacity="0.55" transform="translate(-2,1)" filter="url(#b3)"/>
<use href="#leaf1" fill="url(#lg1)" stroke="#4d8a2f" stroke-width="0.7" filter="url(#b05)"/>
<use href="#leaf2" fill="url(#lg2)" stroke="#4d8a2f" stroke-width="0.7" filter="url(#b05)"/>
<use href="#leaf3" fill="url(#lg3)" stroke="#4d8a2f" stroke-width="0.7" filter="url(#b05)"/>
<use href="#leaf4" fill="url(#lg4)" stroke="#4d8a2f" stroke-width="0.7" filter="url(#b05)"/>
<g clip-path="url(#clip1)">
<g filter="url(#b4)">
<ellipse cx="588" cy="146" rx="20" ry="16" fill="#62a838" opacity="0.9"/>
<ellipse cx="614" cy="176" rx="17" ry="26" fill="#3b8431" opacity="0.85"/>
<ellipse cx="606" cy="150" rx="5" ry="16" fill="#44893a" opacity="0.6"/>
<ellipse cx="600" cy="245" rx="30" ry="22" fill="#4a9236" opacity="0.7"/>
</g>
<path d="M603.5 212 C602.5 240 603.5 270 605.5 303" stroke="#84bd54" stroke-width="4.2" fill="none" opacity="0.85" filter="url(#b1)"/>
</g>
<g filter="url(#b07)">
<ellipse cx="584" cy="196" rx="22" ry="21.5" fill="url(#les1)"/>
<path d="M596 178 A22 21.5 0 0 1 602 210" stroke="#5d6b28" stroke-width="2" fill="none" opacity="0.7"/>
<ellipse cx="586" cy="199" rx="11" ry="10" fill="#ab9d78" opacity="0.8"/>
<ellipse cx="585" cy="196" rx="6" ry="5" fill="#8f8356" opacity="0.7"/>
</g>
<g clip-path="url(#clip2)">
<g filter="url(#b4)">
<ellipse cx="700" cy="150" rx="22" ry="26" fill="#5a9e3a" opacity="0.7"/>
<ellipse cx="722" cy="215" rx="14" ry="35" fill="#478c34" opacity="0.6"/>
<ellipse cx="685" cy="235" rx="12" ry="30" fill="#56983a" opacity="0.6"/>
</g>
<path d="M708.5 135 C708 160 707 175 706 196" stroke="#3f8232" stroke-width="1.6" fill="none" opacity="0.7" filter="url(#b1)"/>
<path d="M705.8 192 C705.3 215 704.5 240 703.5 262 S702 295 701.3 309" stroke="#8fc862" stroke-width="2.3" fill="none" filter="url(#b1)"/>
<g filter="url(#b1)">
<ellipse cx="690.5" cy="199" rx="11" ry="10.3" fill="#bda58a"/>
<ellipse cx="691" cy="200" rx="6" ry="5.5" fill="#c6b49c"/>
<ellipse cx="723" cy="190.5" rx="4" ry="2.2" fill="#8aa040"/>
</g>
<circle cx="686.5" cy="191.5" r="1.3" fill="#6a5a30" filter="url(#b05)"/>
</g>
<g clip-path="url(#clip3)">
<g filter="url(#b4)">
<ellipse cx="806" cy="140" rx="20" ry="18" fill="#5e9e3a" opacity="0.7"/>
<ellipse cx="812" cy="168" rx="12" ry="18" fill="#7d8636" opacity="0.85"/>
<ellipse cx="828" cy="220" rx="12" ry="40" fill="#5c9a3c" opacity="0.6"/>
<ellipse cx="790" cy="245" rx="10" ry="22" fill="#4a8a36" opacity="0.6"/>
</g>
<path d="M808.5 212 C808 240 807.5 270 806.5 309" stroke="#a3a855" stroke-width="3" fill="none" filter="url(#b1)"/>
<ellipse cx="802.5" cy="193" rx="20" ry="26" fill="#8d8a44" opacity="0.85" filter="url(#b2)"/>
<g filter="url(#b1)">
<ellipse cx="801" cy="194" rx="16" ry="20.5" fill="#b3a484"/>
<ellipse cx="800.5" cy="193" rx="11" ry="14.5" fill="#c4b8a2"/>
<path d="M806.5 212 L808 236" stroke="#a89458" stroke-width="4"/>
</g>
</g>
<g clip-path="url(#clip4)">
<g filter="url(#b4)">
<ellipse cx="935" cy="190" rx="14" ry="45" fill="#5b9c3c" opacity="0.7"/>
<ellipse cx="900" cy="150" rx="16" ry="20" fill="#4d8f36" opacity="0.6"/>
<ellipse cx="900" cy="235" rx="12" ry="25" fill="#529638" opacity="0.6"/>
</g>
<path d="M917.8 128 C917 180 916.5 240 916.5 305" stroke="#84c05a" stroke-width="1.8" fill="none" filter="url(#b07)"/>
<g filter="url(#b1)">
<ellipse cx="899.5" cy="187.3" rx="16.5" ry="16.5" fill="#a38f64"/>
<ellipse cx="900" cy="188" rx="10.5" ry="10" fill="#bfb094"/>
<ellipse cx="901" cy="188" rx="2.5" ry="2.5" fill="#e4dfd2"/>
</g>
</g>
<path d="M900 258 Q896 278 894.5 296" stroke="#9e96c0" stroke-width="5" fill="none" opacity="0.75" filter="url(#b2)"/>
<text id="t21" transform="translate(574.75,107.05) rotate(-29)" font-size="20.2" text-anchor="start" font-weight="normal" font-style="normal" fill="#111" stroke="#111" stroke-width="0.6" >ddH<tspan font-size="11.5" dy="4.5">2</tspan><tspan dy="-4.5">O</tspan></text>
<text id="t22" transform="translate(686.25,99.95) rotate(-29)" font-size="20.2" text-anchor="start" font-weight="normal" font-style="normal" fill="#111" stroke="#111" stroke-width="0.6" >flg22</text>
<text id="t23" transform="translate(788.15,104.35) rotate(-29)" font-size="20.2" text-anchor="start" font-weight="normal" font-style="normal" fill="#111" stroke="#111" stroke-width="0.6" >nlp20 (VmNLP1)</text>
<text id="t24" transform="translate(901.10,112.60) rotate(-29)" font-size="20.2" text-anchor="start" font-weight="normal" font-style="normal" fill="#111" stroke="#111" stroke-width="0.6" >nlp25 (VmNLP2)</text>
</g>
<g id="panelB">
<text id="t25" transform="translate(23.18,427.88) scale(0.9564,1.0167)" font-size="30.5" text-anchor="start" font-weight="normal" font-style="normal" fill="#111" stroke="#111" stroke-width="0.8" >B</text>
<text id="t26" transform="translate(60.30,535.30) rotate(-90) scale(1.0382,1.0000)" font-size="19.8" text-anchor="middle" font-weight="normal" font-style="normal" fill="#111" stroke="#111" stroke-width="0.6" >Relative expression</text>
<path d="M106.3 445V623.1H355.2" fill="none" stroke="#555" stroke-width="1.1"/>
<path d="M102.10 622.40H106.3M102.10 595.20H106.3M102.10 568.00H106.3M102.10 540.80H106.3M102.10 513.60H106.3M102.10 486.40H106.3M102.10 459.20H106.3M145.80 623.1v3.6M202.30 623.1v3.6M258.85 623.1v3.6M314.93 623.1v3.6" stroke="#555" stroke-width="1.1" fill="none"/>
<text id="t27" transform="translate(96.00,627.40) scale(1.1200,1.0000)" font-size="17.3" text-anchor="end" font-weight="normal" font-style="normal" fill="#111" stroke="#111" stroke-width="0.6" >0</text>
<text id="t28" transform="translate(101.60,599.80) scale(1.1200,1.0000)" font-size="17.3" text-anchor="end" font-weight="normal" font-style="normal" fill="#111" stroke="#111" stroke-width="0.6" >100</text>
<text id="t29" transform="translate(101.60,573.20) scale(1.1200,1.0000)" font-size="17.3" text-anchor="end" font-weight="normal" font-style="normal" fill="#111" stroke="#111" stroke-width="0.6" >200</text>
<text id="t30" transform="translate(101.60,545.60) scale(1.1200,1.0000)" font-size="17.3" text-anchor="end" font-weight="normal" font-style="normal" fill="#111" stroke="#111" stroke-width="0.6" >300</text>
<text id="t31" transform="translate(101.60,519.00) scale(1.1200,1.0000)" font-size="17.3" text-anchor="end" font-weight="normal" font-style="normal" fill="#111" stroke="#111" stroke-width="0.6" >400</text>
<text id="t32" transform="translate(101.60,491.40) scale(1.1200,1.0000)" font-size="17.3" text-anchor="end" font-weight="normal" font-style="normal" fill="#111" stroke="#111" stroke-width="0.6" >500</text>
<text id="t33" transform="translate(101.60,463.80) scale(1.1200,1.0000)" font-size="17.3" text-anchor="end" font-weight="normal" font-style="normal" fill="#111" stroke="#111" stroke-width="0.6" >600</text>
<rect x="129.20" y="622.20" width="33.20" height="1.30" fill="#000" opacity="0.45"/>
<rect x="185.70" y="622.40" width="33.20" height="1.10" fill="#000" opacity="0.45"/>
<rect x="241.90" y="464.40" width="33.90" height="159.10" fill="#000"/>
<path d="M258.85 464.40V455.60M256.15 455.60H261.55" stroke="#111" stroke-width="1.5" fill="none"/>
<text id="t34" transform="translate(259.50,455.80) scale(1.1000,1.0000)" font-size="21" text-anchor="middle" font-weight="bold" font-style="normal" fill="#111" stroke="#111" stroke-width="0.3" >**</text>
<rect x="297.75" y="563.10" width="34.35" height="60.40" fill="#000"/>
<path d="M314.93 563.10V557.25M312.23 557.25H317.62" stroke="#111" stroke-width="1.5" fill="none"/>
<text id="t35" transform="translate(315.30,556.80) scale(1.1000,1.0000)" font-size="21" text-anchor="middle" font-weight="bold" font-style="normal" fill="#111" stroke="#111" stroke-width="0.3" >**</text>
<text id="t36" transform="translate(151.25,467.38) scale(1.1097,1.0987)" font-size="18" text-anchor="start" font-weight="normal" font-style="italic" fill="#111" stroke="#111" stroke-width="0.6" >AtPR1</text>
<text id="t37" transform="translate(155.50,640.40) rotate(-29)" font-size="20.2" text-anchor="end" font-weight="normal" font-style="normal" fill="#111" stroke="#111" stroke-width="0.6" >ddH<tspan font-size="11.5" dy="4.5">2</tspan><tspan dy="-4.5">O</tspan></text>
<text id="t38" transform="translate(215.40,640.60) rotate(-29)" font-size="20.2" text-anchor="end" font-weight="normal" font-style="normal" fill="#111" stroke="#111" stroke-width="0.6" >nlp20 (VmNLP1)</text>
<text id="t39" transform="translate(269.55,639.60) rotate(-29)" font-size="20.2" text-anchor="end" font-weight="normal" font-style="normal" fill="#111" stroke="#111" stroke-width="0.6" >nlp25 (VmNLP2)</text>
<text id="t40" transform="translate(320.58,644.15) rotate(-29)" font-size="20.2" text-anchor="end" font-weight="normal" font-style="normal" fill="#111" stroke="#111" stroke-width="0.6" >flg22</text>
<path d="M437.5 441.5V620.3H686.3" fill="none" stroke="#555" stroke-width="1.1"/>
<path d="M433.30 620.10H437.5M433.30 594.75H437.5M433.30 569.40H437.5M433.30 544.05H437.5M433.30 518.70H437.5M433.30 493.35H437.5M433.30 468.00H437.5M433.30 442.65H437.5M477.15 620.3v3.6M533.45 620.3v3.6M589.65 620.3v3.6M645.95 620.3v3.6" stroke="#555" stroke-width="1.1" fill="none"/>
<text id="t41" transform="translate(433.00,625.20) scale(1.1200,1.0000)" font-size="17.3" text-anchor="end" font-weight="normal" font-style="normal" fill="#111" stroke="#111" stroke-width="0.6" >0</text>
<text id="t42" transform="translate(433.00,600.12) scale(1.1200,1.0000)" font-size="17.3" text-anchor="end" font-weight="normal" font-style="normal" fill="#111" stroke="#111" stroke-width="0.6" >1</text>
<text id="t43" transform="translate(433.00,574.04) scale(1.1200,1.0000)" font-size="17.3" text-anchor="end" font-weight="normal" font-style="normal" fill="#111" stroke="#111" stroke-width="0.6" >2</text>
<text id="t44" transform="translate(433.00,548.96) scale(1.1200,1.0000)" font-size="17.3" text-anchor="end" font-weight="normal" font-style="normal" fill="#111" stroke="#111" stroke-width="0.6" >3</text>
<text id="t45" transform="translate(433.00,523.88) scale(1.1200,1.0000)" font-size="17.3" text-anchor="end" font-weight="normal" font-style="normal" fill="#111" stroke="#111" stroke-width="0.6" >4</text>
<text id="t46" transform="translate(433.00,498.80) scale(1.1200,1.0000)" font-size="17.3" text-anchor="end" font-weight="normal" font-style="normal" fill="#111" stroke="#111" stroke-width="0.6" >5</text>
<text id="t47" transform="translate(433.00,472.72) scale(1.1200,1.0000)" font-size="17.3" text-anchor="end" font-weight="normal" font-style="normal" fill="#111" stroke="#111" stroke-width="0.6" >6</text>
<text id="t48" transform="translate(433.00,447.64) scale(1.1200,1.0000)" font-size="17.3" text-anchor="end" font-weight="normal" font-style="normal" fill="#111" stroke="#111" stroke-width="0.6" >7</text>
<rect x="460.00" y="594.50" width="34.30" height="26.20" fill="#000"/>
<path d="M477.15 594.50V592.00M474.45 592.00H479.85" stroke="#111" stroke-width="1.5" fill="none"/>
<rect x="516.30" y="597.00" width="34.30" height="23.70" fill="#000"/>
<path d="M533.45 597.00V595.80M530.75 595.80H536.15" stroke="#111" stroke-width="1.5" fill="none"/>
<rect x="572.60" y="471.25" width="34.10" height="149.45" fill="#000"/>
<path d="M589.65 471.25V461.25M586.95 461.25H592.35" stroke="#111" stroke-width="1.5" fill="none"/>
<text id="t49" transform="translate(589.70,461.00) scale(1.1000,1.0000)" font-size="21" text-anchor="middle" font-weight="bold" font-style="normal" fill="#111" stroke="#111" stroke-width="0.3" >**</text>
<rect x="628.90" y="538.75" width="34.10" height="81.95" fill="#000"/>
<path d="M645.95 538.75V534.50M643.25 534.50H648.65" stroke="#111" stroke-width="1.5" fill="none"/>
<text id="t50" transform="translate(646.10,535.00) scale(1.1000,1.0000)" font-size="21" text-anchor="middle" font-weight="bold" font-style="normal" fill="#111" stroke="#111" stroke-width="0.3" >***</text>
<text id="t51" transform="translate(454.75,465.00) scale(1.1120,1.0000)" font-size="18" text-anchor="start" font-weight="normal" font-style="italic" fill="#111" stroke="#111" stroke-width="0.6" >AtWRKY33</text>
<text id="t52" transform="translate(486.45,638.10) rotate(-29)" font-size="20.2" text-anchor="end" font-weight="normal" font-style="normal" fill="#111" stroke="#111" stroke-width="0.6" >ddH<tspan font-size="11.5" dy="4.5">2</tspan><tspan dy="-4.5">O</tspan></text>
<text id="t53" transform="translate(549.05,641.60) rotate(-29)" font-size="20.2" text-anchor="end" font-weight="normal" font-style="normal" fill="#111" stroke="#111" stroke-width="0.6" >nlp20 (VmNLP1)</text>
<text id="t54" transform="translate(601.95,639.10) rotate(-29)" font-size="20.2" text-anchor="end" font-weight="normal" font-style="normal" fill="#111" stroke="#111" stroke-width="0.6" >nlp25 (VmNLP2)</text>
<text id="t55" transform="translate(651.20,640.55) rotate(-29)" font-size="20.2" text-anchor="end" font-weight="normal" font-style="normal" fill="#111" stroke="#111" stroke-width="0.6" >flg22</text>
<path d="M766.7 440V618.4H1016" fill="none" stroke="#555" stroke-width="1.1"/>
<path d="M762.50 618.00H766.7M762.50 567.14H766.7M762.50 516.28H766.7M762.50 465.42H766.7M806.10 618.4v3.6M862.45 618.4v3.6M919.38 618.4v3.6M975.75 618.4v3.6" stroke="#555" stroke-width="1.1" fill="none"/>
<text id="t56" transform="translate(760.80,622.60) scale(1.1200,1.0000)" font-size="17.3" text-anchor="end" font-weight="normal" font-style="normal" fill="#111" stroke="#111" stroke-width="0.6" >0</text>
<text id="t57" transform="translate(760.80,572.08) scale(1.1200,1.0000)" font-size="17.3" text-anchor="end" font-weight="normal" font-style="normal" fill="#111" stroke="#111" stroke-width="0.6" >20</text>
<text id="t58" transform="translate(760.80,521.56) scale(1.1200,1.0000)" font-size="17.3" text-anchor="end" font-weight="normal" font-style="normal" fill="#111" stroke="#111" stroke-width="0.6" >40</text>
<text id="t59" transform="translate(760.80,470.04) scale(1.1200,1.0000)" font-size="17.3" text-anchor="end" font-weight="normal" font-style="normal" fill="#111" stroke="#111" stroke-width="0.6" >60</text>
<rect x="789.20" y="615.30" width="33.80" height="3.50" fill="#000"/>
<rect x="845.30" y="615.60" width="34.30" height="3.20" fill="#000"/>
<rect x="902.50" y="458.00" width="33.75" height="160.80" fill="#000"/>
<path d="M919.38 458.00V445.75M916.67 445.75H922.08" stroke="#111" stroke-width="1.5" fill="none"/>
<text id="t60" transform="translate(920.00,447.00) scale(1.1000,1.0000)" font-size="21" text-anchor="middle" font-weight="bold" font-style="normal" fill="#111" stroke="#111" stroke-width="0.3" >**</text>
<rect x="958.80" y="571.75" width="33.90" height="47.05" fill="#000"/>
<path d="M975.75 571.75V567.00M973.05 567.00H978.45" stroke="#111" stroke-width="1.5" fill="none"/>
<text id="t61" transform="translate(976.30,567.00) scale(1.1000,1.0000)" font-size="21" text-anchor="middle" font-weight="bold" font-style="normal" fill="#111" stroke="#111" stroke-width="0.3" >**</text>
<text id="t62" transform="translate(798.90,465.00) scale(1.1112,1.0000)" font-size="18" text-anchor="start" font-weight="normal" font-style="italic" fill="#111" stroke="#111" stroke-width="0.6" >AtFRK1</text>
<text id="t63" transform="translate(814.80,636.30) rotate(-29)" font-size="20.2" text-anchor="end" font-weight="normal" font-style="normal" fill="#111" stroke="#111" stroke-width="0.6" >ddH<tspan font-size="11.5" dy="4.5">2</tspan><tspan dy="-4.5">O</tspan></text>
<text id="t64" transform="translate(876.05,639.80) rotate(-29)" font-size="20.2" text-anchor="end" font-weight="normal" font-style="normal" fill="#111" stroke="#111" stroke-width="0.6" >nlp20 (VmNLP1)</text>
<text id="t65" transform="translate(929.08,637.90) rotate(-29)" font-size="20.2" text-anchor="end" font-weight="normal" font-style="normal" fill="#111" stroke="#111" stroke-width="0.6" >nlp25 (VmNLP2)</text>
<text id="t66" transform="translate(980.55,638.00) rotate(-29)" font-size="20.2" text-anchor="end" font-weight="normal" font-style="normal" fill="#111" stroke="#111" stroke-width="0.6" >flg22</text>
</g>
</svg></body></html>
